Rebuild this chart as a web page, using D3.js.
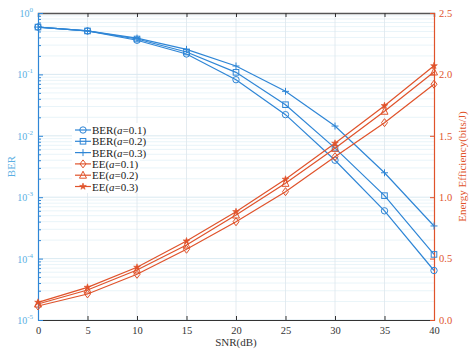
<!DOCTYPE html>
<html lang="en">
<head>
  <meta charset="UTF-8">
  <title>BER and EE vs SNR</title>
  <script src="https://cdn.jsdelivr.net/npm/d3@7"></script>
  <style>
    body { margin: 0; background: #fff; }
    text { font-family: "Liberation Serif", "DejaVu Serif", serif; }
  </style>
</head>
<body>
  <svg id="chart"></svg>
  <script>
    const snr = [0, 5, 10, 15, 20, 25, 30, 35, 40];
    const ber01 = [0.59, 0.51, 0.36, 0.215, 0.082, 0.0221, 0.0040, 6.0e-4, 6.4e-5];
    const ber02 = [0.59, 0.51, 0.377, 0.232, 0.108, 0.0321, 0.0063, 1.06e-3, 1.17e-4];
    const ber03 = [0.59, 0.51, 0.39, 0.256, 0.137, 0.053, 0.0144, 2.5e-3, 3.4e-4];
    const ee01 = [0.114, 0.212, 0.372, 0.576, 0.80, 1.045, 1.33, 1.607, 1.92];
    const ee02 = [0.13, 0.244, 0.407, 0.61, 0.855, 1.113, 1.398, 1.70, 2.02];
    const ee03 = [0.144, 0.266, 0.429, 0.643, 0.882, 1.146, 1.439, 1.745, 2.07];
    const xTicks = [0, 5, 10, 15, 20, 25, 30, 35, 40];
    const berExp = [0, -1, -2, -3, -4, -5];
    const eeTicks = [0, 0.5, 1, 1.5, 2, 2.5];

    const blue = "#2f86d6", red = "#e0532b";
    const serif = "Liberation Serif, DejaVu Serif, serif";
    const width = 474, height = 353;
    const margin = {top: 13, right: 40, bottom: 33, left: 38};
    const w = width - margin.left - margin.right,
          h = height - margin.top - margin.bottom;

    const svg = d3.select("#chart").attr("width", width).attr("height", height);
    const g = svg.append("g").attr("transform", `translate(${margin.left}, ${margin.top})`);

    const x = d3.scaleLinear().domain([0, 40]).range([0, w]);
    const yB = d3.scaleLog().domain([1e-5, 1]).range([h, 0]);
    const yE = d3.scaleLinear().domain([0, 2.5]).range([h, 0]);

    // grid
    const minor = [];
    berExp.slice(1).forEach(e => { for (let k = 1; k < 10; k++) minor.push(k * Math.pow(10, e)); });
    g.append("g").selectAll("line").data(minor).join("line")
      .attr("x1", 0).attr("x2", w)
      .attr("y1", d => yB(d)).attr("y2", d => yB(d))
      .attr("stroke", d => Math.abs(Math.log10(d) % 1) < 1e-9 ? "#cfe3ee" : "#e3f1f8")
      .attr("stroke-width", 0.8);
    g.append("g").selectAll("line").data(xTicks.slice(1, -1)).join("line")
      .attr("x1", d => x(d)).attr("x2", d => x(d))
      .attr("y1", 0).attr("y2", h)
      .attr("stroke", "#dde6ec").attr("stroke-width", 0.8);

    // axes
    const xAxis = d3.axisBottom(x).tickValues(xTicks).tickSize(-4).tickPadding(7);
    const gx = g.append("g").attr("transform", `translate(0, ${h})`).call(xAxis).attr("font-family", serif);
    gx.select(".domain").attr("stroke", "#333");
    gx.selectAll(".tick line").attr("stroke", "#333");
    gx.selectAll("text").attr("font-size", 10.5).attr("fill", "#333");

    const gTop = g.append("g").call(d3.axisTop(x).tickValues(xTicks).tickSize(-4).tickFormat(""));
    gTop.select(".domain").attr("stroke", "#555").attr("stroke-width", 1.4);
    gTop.selectAll(".tick line").attr("stroke", "#333");

    const gy = g.append("g").call(d3.axisLeft(yB).tickValues(minor.concat([1])).tickSize(0).tickFormat(""));
    gy.select(".domain").attr("stroke", blue).attr("stroke-width", 1.2);
    gy.selectAll(".tick line")
      .attr("x2", d => Math.abs(Math.log10(d) % 1) < 1e-9 ? 5 : 3)
      .attr("stroke", blue);
    const lab = g.append("g").selectAll("text").data(berExp).join("text")
      .attr("x", -5).attr("y", d => yB(Math.pow(10, d)) + 4)
      .attr("text-anchor", "end").attr("fill", "#5aafe3").attr("font-size", 10);
    lab.append("tspan").text("10");
    lab.append("tspan").attr("dy", -5).attr("font-size", 7).text(d => d);

    const gr = g.append("g").attr("transform", `translate(${w}, 0)`)
      .call(d3.axisRight(yE).tickValues(eeTicks).tickSize(-4).tickPadding(5)).attr("font-family", serif);
    gr.select(".domain").attr("stroke", red).attr("stroke-width", 1.2);
    gr.selectAll(".tick line").attr("stroke", red);
    gr.selectAll("text").attr("fill", red).attr("font-size", 10.5);

    svg.append("text").attr("x", margin.left + w / 2).attr("y", 346)
      .attr("text-anchor", "middle").attr("font-size", 11).attr("fill", "#333").text("SNR(dB)");
    svg.append("text").attr("transform", `translate(15, ${margin.top + h / 2}) rotate(-90)`)
      .attr("text-anchor", "middle").attr("font-size", 11).attr("fill", "#5aafe3").text("BER");
    svg.append("text").attr("transform", `translate(466, ${margin.top + h / 2}) rotate(-90)`)
      .attr("text-anchor", "middle").attr("font-size", 11).attr("fill", red).text("Energy Efficiency(bits/J)");

    // markers
    function marker(sel, type, color) {
      if (type === "circle") sel.append("circle").attr("r", 3.2).attr("fill", "none").attr("stroke", color);
      if (type === "square") sel.append("rect").attr("x", -2.8).attr("y", -2.8).attr("width", 5.6).attr("height", 5.6).attr("fill", "none").attr("stroke", color);
      if (type === "plus") sel.append("path").attr("d", "M-3.5,0H3.5M0,-3.5V3.5").attr("stroke", color);
      if (type === "diamond") sel.append("path").attr("d", "M0,-4L3,0L0,4L-3,0Z").attr("fill", "none").attr("stroke", color);
      if (type === "triangle") sel.append("path").attr("d", "M0,-4L3.5,3L-3.5,3Z").attr("fill", "none").attr("stroke", color);
      if (type === "star") sel.append("path").attr("d", d3.symbol(d3.symbolStar, 14)()).attr("fill", color).attr("stroke", color).attr("stroke-width", 0.6);
    }

    const series = [
      {name: "BER", a: "0.1", vals: ber01, y: yB, color: blue, m: "circle"},
      {name: "BER", a: "0.2", vals: ber02, y: yB, color: blue, m: "square"},
      {name: "BER", a: "0.3", vals: ber03, y: yB, color: blue, m: "plus"},
      {name: "EE", a: "0.1", vals: ee01, y: yE, color: red, m: "diamond"},
      {name: "EE", a: "0.2", vals: ee02, y: yE, color: red, m: "triangle"},
      {name: "EE", a: "0.3", vals: ee03, y: yE, color: red, m: "star"}
    ];

    series.forEach(s => {
      const pts = snr.map((v, i) => [v, s.vals[i]]);
      const line = d3.line().x(d => x(d[0])).y(d => s.y(d[1]));
      g.append("path").attr("d", line(pts)).attr("fill", "none")
        .attr("stroke", s.color).attr("stroke-width", 1.2);
      g.append("g").selectAll("g").data(pts).join("g")
        .attr("transform", d => `translate(${x(d[0])}, ${s.y(d[1])})`)
        .each(function() { marker(d3.select(this), s.m, s.color); });
    });

    // legend
    const leg = g.append("g").attr("transform", "translate(34, 110)");
    leg.append("rect").attr("x", 0).attr("y", 0).attr("width", 68).attr("height", 70).attr("fill", "#fff");
    series.forEach((s, i) => {
      const row = leg.append("g").attr("transform", `translate(0, ${7 + i * 11.3})`);
      row.append("line").attr("x1", 3).attr("x2", 19).attr("stroke", s.color).attr("stroke-width", 1.2);
      const mk = row.append("g").attr("transform", "translate(11, 0)");
      marker(mk, s.m, s.color);
      const t = row.append("text").attr("x", 20).attr("y", 4).attr("font-size", 11).attr("fill", "#222");
      t.append("tspan").text(s.name + "(");
      t.append("tspan").attr("font-style", "italic").text("a");
      t.append("tspan").text("=" + s.a + ")");
    });
  </script>
</body>
</html>
